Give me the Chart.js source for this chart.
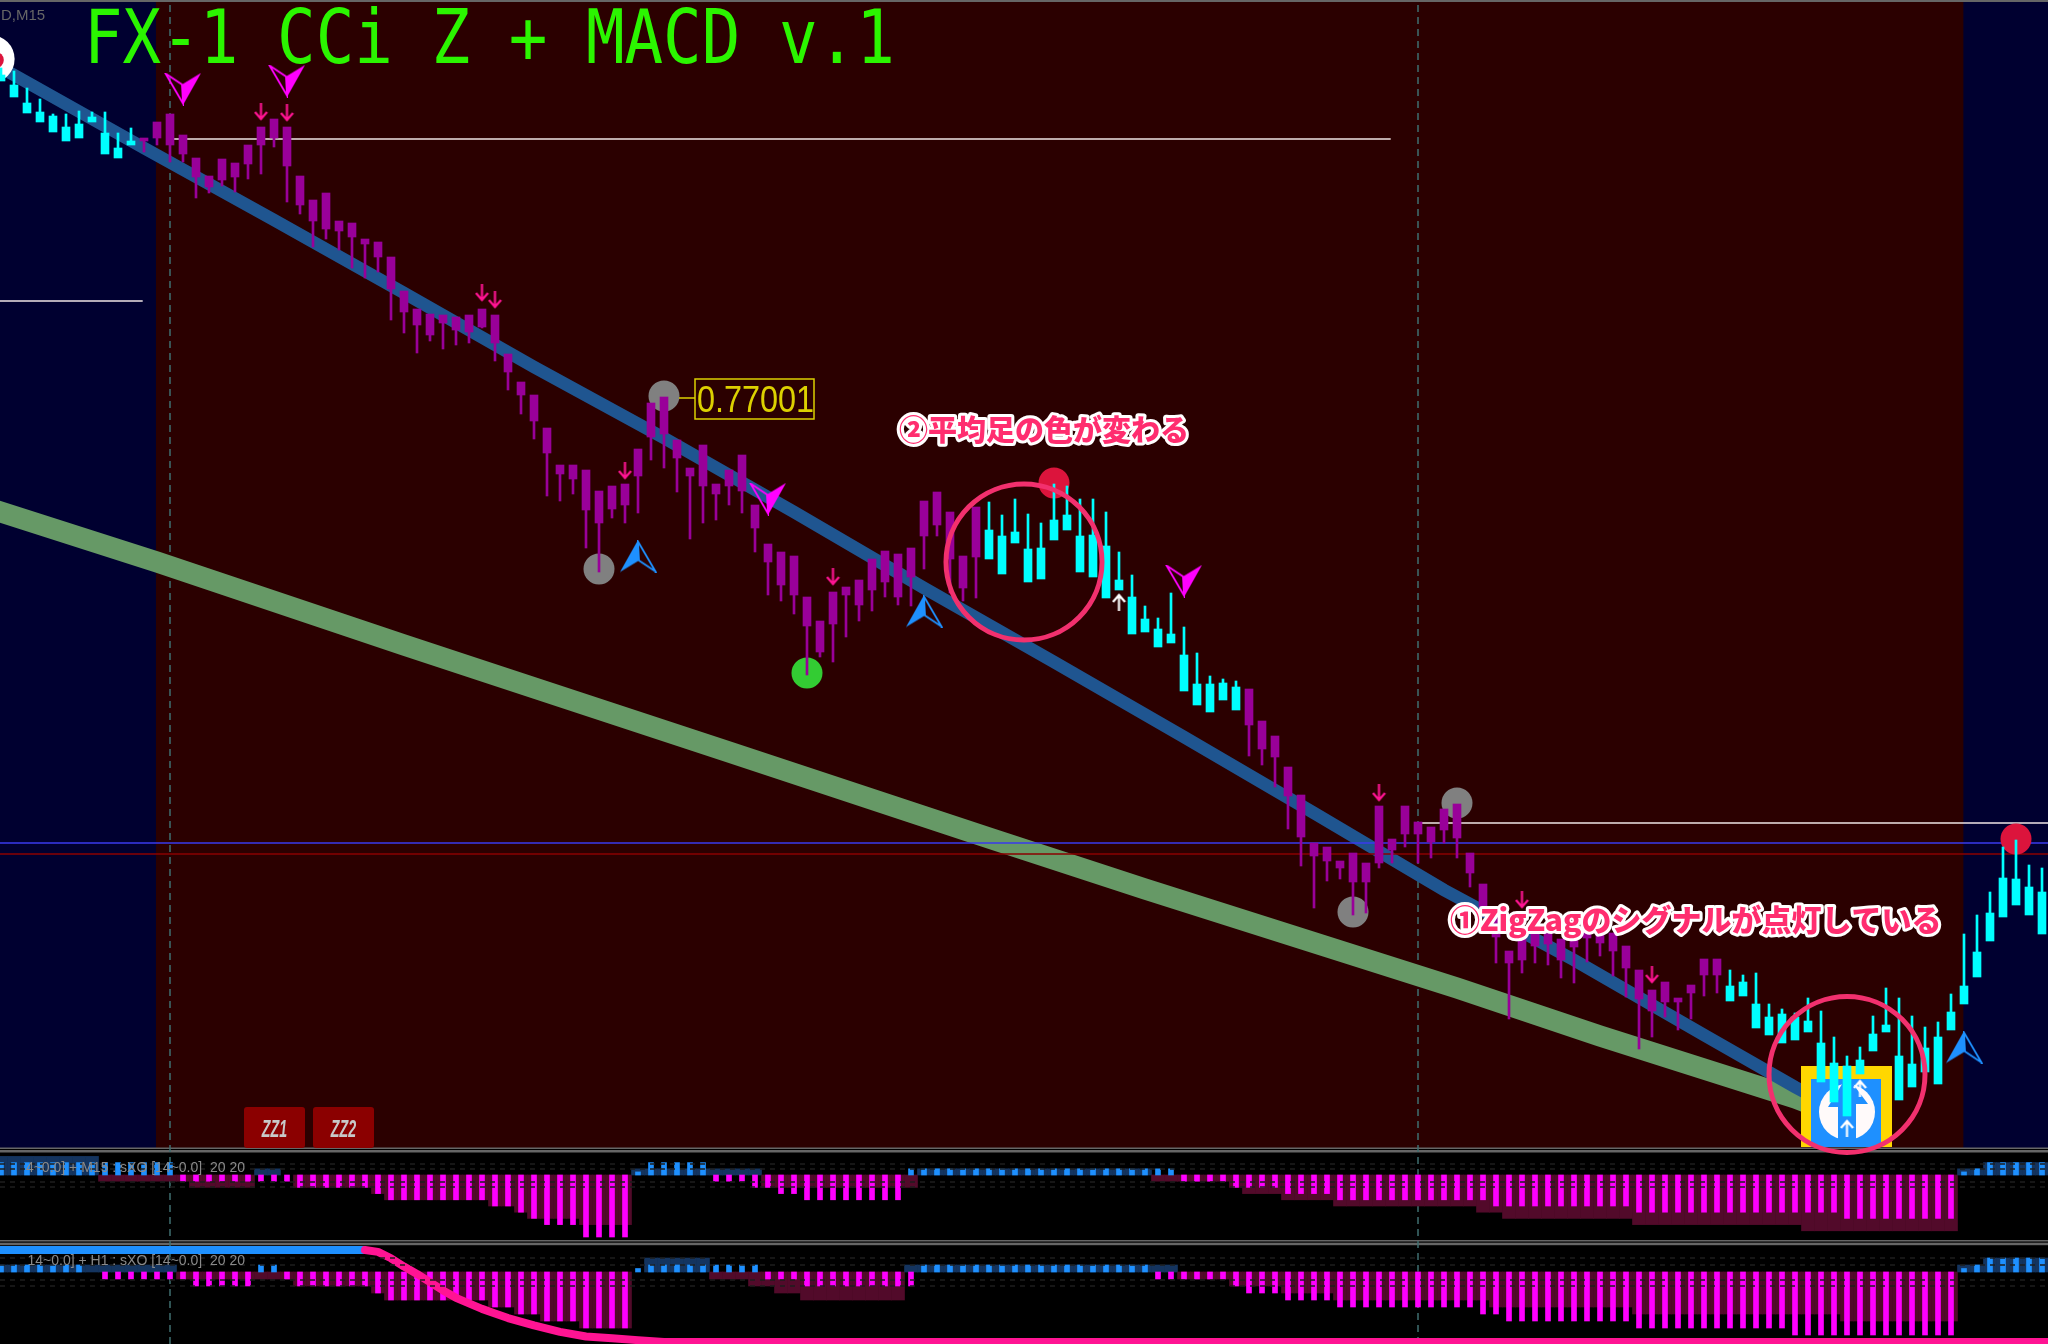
<!DOCTYPE html>
<html>
<head>
<meta charset="utf-8">
<style>
    html, body { margin: 0; padding: 0; background: #000; }
    canvas { display: block; }
</style>
<script src="https://cdn.jsdelivr.net/npm/chart.js@4"></script>
</head>
<body>
<canvas id="chart" width="2048" height="1344"></canvas>
<script>
// prices are in points above 0.76000, so 1001 is the 0.77001 tag
// every list starts at bar -1, the half hidden candle on the left edge
const firstBar = -1;

const bodyTop = [
    1326, 1316, 1298, 1289, 1285, 1274, 1277, 1284, 1268, 1253,
    1260, 1263, 1279, 1287, 1266, 1243, 1225, 1242, 1238, 1256,
    1274, 1282, 1274, 1225, 1201, 1208, 1180, 1178, 1162, 1159,
    1144, 1110, 1092, 1087, 1086, 1084, 1086, 1092, 1086, 1047,
    1019, 1006, 973, 936, 936, 931, 910, 915, 917, 952,
    998, 1004, 961, 933, 956, 917, 931, 946, 896, 857,
    849, 845, 804, 780, 809, 814, 821, 842, 850, 847,
    853, 900, 909, 889, 845, 894, 871, 865, 869, 852,
    853, 881, 886, 865, 866, 855, 821, 804, 782, 772,
    767, 746, 717, 717, 718, 714, 712, 680, 665, 634,
    606, 558, 554, 540, 548, 538, 595, 562, 595, 579,
    574, 592, 597, 548, 517, 486, 450, 462, 468, 468,
    462, 466, 479, 469, 468, 455, 431, 411, 419, 403,
    416, 442, 442, 415, 419, 397, 384, 387, 384, 380,
    358, 338, 335, 341, 367, 376, 345, 337, 353, 364,
    389, 415, 449, 488, 523, 522, 514, 509
];
const bodyBottom = [
    1320, 1304, 1288, 1279, 1269, 1260, 1263, 1279, 1247, 1243,
    1256, 1260, 1263, 1256, 1247, 1224, 1214, 1221, 1224, 1237,
    1256, 1263, 1235, 1196, 1180, 1172, 1170, 1164, 1157, 1144,
    1112, 1089, 1076, 1066, 1078, 1071, 1069, 1074, 1058, 1029,
    1006, 980, 948, 927, 922, 891, 878, 892, 896, 925,
    964, 967, 943, 925, 915, 907, 915, 910, 873, 839,
    816, 806, 775, 749, 777, 806, 796, 811, 819, 804,
    824, 865, 876, 842, 813, 844, 842, 827, 858, 819,
    822, 861, 871, 829, 824, 803, 811, 767, 769, 754,
    758, 710, 696, 689, 701, 691, 676, 652, 644, 605,
    564, 545, 540, 533, 519, 519, 538, 551, 567, 567,
    559, 571, 563, 528, 494, 464, 438, 441, 455, 457,
    441, 454, 463, 458, 450, 433, 402, 390, 399, 399,
    408, 426, 426, 400, 405, 373, 366, 358, 361, 369,
    319, 299, 285, 327, 350, 369, 301, 314, 329, 317,
    371, 397, 424, 460, 484, 496, 486, 467
];
// wick tip: above the body on a rising candle, below it on a falling one
const wickTip = [
    1333, 1330, 1313, 1302, 1287, 1287, 1290, 1289, 1289, 1268,
    1273, 1249, 1256, 1239, 1239, 1203, 1208, 1215, 1209, 1222,
    1227, 1254, 1199, 1187, 1154, 1162, 1151, 1133, 1123, 1129,
    1081, 1068, 1048, 1060, 1052, 1056, 1058, 1073, 1040, 1011,
    987, 962, 905, 900, 907, 853, 829, 883, 878, 888,
    941, 933, 909, 862, 878, 881, 896, 888, 849, 806,
    800, 787, 726, 744, 739, 764, 780, 790, 804, 796,
    795, 832, 865, 808, 800, 803, 899, 886, 902, 887,
    878, 917, 915, 902, 902, 889, 849, 826, 795, 783,
    808, 774, 748, 725, 722, 720, 645, 636, 614, 572,
    535, 493, 520, 522, 486, 488, 533, 538, 554, 538,
    543, 558, 543, 514, 485, 438, 382, 428, 438, 436,
    423, 418, 439, 445, 425, 404, 352, 364, 384, 371,
    382, 405, 408, 431, 426, 428, 397, 392, 388, 403,
    390, 364, 345, 354, 385, 413, 403, 385, 374, 379,
    407, 467, 486, 509, 554, 561, 536, 533
];

// the two moving averages, read at the bars listed
const slowMaBars = [-2, 11, 30, 37, 55, 75, 87, 111, 122, 137, 138];
const slowMaValues = [893, 839, 756, 726, 649, 563, 512, 413, 365, 303, 298];
const fastMaBars = [-2, 0, 10, 20, 30, 40, 50, 60, 70, 80, 90, 100, 110, 120, 130, 137, 138];
const fastMaValues = [1340, 1326, 1253, 1181, 1108, 1034, 963, 889, 813, 739, 664, 588, 511, 441, 366, 314, 307];

// horizontal levels
const supportLines = [
    { from: 12, to: 105.9, value: 1262 },
    { from: -2, to: 9.9, value: 1100 },
    { from: 108.3, to: 158, value: 578 }
];
const blueLevel = 558;
const redLevel = 547;
const cursorBars = [12, 108];

// signals: [bar, price]
const grayDots = [[50, 1005], [45, 832], [103, 489], [111, 598]];
const greenDots = [[61, 728]];
const redDots = [[80, 918], [154, 562]];
const sellArrows = [[13, 1312], [21, 1320], [58, 902], [90, 820]];
const buyArrows = [[48, 845], [70, 790], [150, 354]];
const smallDownArrows = [[19, 1289], [21, 1288], [36, 1108], [37, 1101], [47, 930], [63, 824], [105, 608], [116, 501], [126, 426]];
const smallUpArrows = [[85, 799], [142, 313], [141, 273]];

// sXO panels, counted in steps around zero, bars from -1 to 156
const m15Fast = [
    2, 2, 2, 2, 2, 2, 2, 2, 2, 2,
    2, 2, 2, 2, -1, -1, -1, -1, -1, -1,
    -1, -1, -1, -2, -2, -2, -2, -2, -2, -3,
    -4, -4, -4, -4, -4, -4, -4, -4, -5, -5,
    -6, -7, -8, -8, -8, -10, -10, -10, -10, 0.5,
    2, 2, 2, 2, 2, -1, -1, -1, -2, -2,
    -3, -3, -4, -4, -4, -4, -4, -4, -4, -4,
    1, 1, 1, 1, 1, 1, 1, 1, 1, 1,
    1, 1, 1, 1, 1, 1, 1, 1, 1, 1,
    1, -1, -1, -1, -1, -2, -2, -2, -2, -3,
    -3, -3, -3, -4, -4, -4, -4, -4, -4, -4,
    -4, -4, -4, -4, -4, -5, -5, -5, -5, -5,
    -5, -5, -5, -5, -5, -5, -6, -6, -6, -6,
    -6, -6, -6, -6, -6, -6, -6, -6, -6, -6,
    -6, -6, -7, -7, -7, -7, -7, -7, -7, -7,
    -7, 0.5, 1, 2, 2, 2, 2, 2
];
const m15Slow = [
    3, 3, 3, 3, 3, 3, 3, 3, -1, -1,
    -1, -1, -1, -1, -1, -2, -2, -2, -2, -2,
    1, 1, 0, -2, -2, -2, -2, -2, -2, -3,
    -4, -4, -4, -4, -4, -4, -4, -4, -5, -5,
    -6, -7, -7, -7, -7, -8, -8, -8, -8, 1,
    1, 1, 1, 1, 1, 1, 1, 1, 1, -2,
    -2, -2, -2, -2, -2, -2, -2, -2, -2, -2,
    -2, 1, 1, 1, 1, 1, 1, 1, 1, 1,
    1, 1, 1, 1, 1, 1, 1, 1, 1, -1,
    -1, -1, -1, -1, -1, -2, -3, -3, -3, -4,
    -4, -4, -4, -5, -5, -5, -5, -5, -5, -5,
    -5, -5, -5, -5, -6, -6, -7, -7, -7, -7,
    -7, -7, -7, -7, -7, -7, -8, -8, -8, -8,
    -8, -8, -8, -8, -8, -8, -8, -8, -8, -9,
    -9, -9, -9, -9, -9, -9, -9, -9, -9, -9,
    -9, 1, 1, 2, 2, 2, 2, 2
];
const h1Fast = [
    1, 1, 1, 1, 1, 1, 1, 0, -1, -1,
    -1, -1, -1, -1, -1, -2, -2, -2, -2, -2,
    1, 1, -1, -2, -2, -2, -2, -2, -2, -3,
    -4, -4, -4, -4, -4, -4, -4, -4, -5, -5,
    -6, -6, -7, -7, -7, -8, -8, -8, -8, 0.5,
    1, 1, 1, 1, 1, 1, 1, 1, 1, -1,
    -1, -1, -2, -2, -2, -2, -2, -2, -2, -2,
    -2, 1, 1, 1, 1, 1, 1, 1, 1, 1,
    1, 1, 1, 1, 1, 1, 1, 1, 1, -1,
    -1, -1, -1, -1, -1, -2, -3, -3, -3, -4,
    -4, -4, -4, -5, -5, -5, -5, -5, -5, -5,
    -5, -5, -5, -5, -6, -6, -7, -7, -7, -7,
    -7, -7, -7, -7, -7, -7, -8, -8, -8, -8,
    -8, -8, -8, -8, -8, -8, -8, -8, -9, -9,
    -9, -9, -9, -9, -9, -9, -9, -9, -9, -9,
    -9, 0.5, 1, 2, 2, 2, 2, 2
];
const h1Slow = [
    1, 1, 1, 1, 1, 1, 1, 1, 1, 1,
    1, 1, 1, 1, -1, -1, -1, -1, -1, -1,
    -1, -1, -1, -2, -2, -2, -2, -2, -2, -3,
    -4, -4, -4, -4, -4, -4, -4, -4, -5, -5,
    -6, -6, -7, -7, -7, -8, -8, -8, -8, 0,
    2, 2, 2, 2, 2, -1, -1, -1, -2, -2,
    -3, -3, -4, -4, -4, -4, -4, -4, -4, -4,
    1, 1, 1, 1, 1, 1, 1, 1, 1, 1,
    1, 1, 1, 1, 1, 1, 1, 1, 1, 1,
    1, -1, -1, -1, -1, -2, -2, -2, -2, -3,
    -3, -3, -3, -4, -4, -4, -4, -4, -4, -4,
    -4, -4, -4, -4, -4, -5, -5, -5, -5, -5,
    -5, -5, -5, -5, -5, -5, -6, -6, -6, -6,
    -6, -6, -6, -6, -6, -6, -6, -6, -6, -6,
    -6, -6, -7, -7, -7, -7, -7, -7, -7, -7,
    -7, 1, 1, 2, 2, 2, 2, 2
];

// trend line of the lower panel, 100 is the blue side, 0 the pink side
const trendUpBars = [-2, 27];
const trendUpValues = [100, 100];
const trendDownBars = [27, 28, 29, 30, 31, 32, 33, 34, 35, 36, 37, 38, 40, 42, 44, 46, 48, 50, 158];
const trendDownValues = [100, 98, 91, 82, 74, 65, 56, 48, 42, 36, 31, 26, 18, 11, 6, 4, 2, 0, 0];

const titleText = 'FX-1 CCi Z + MACD v.1';
const symbolText = 'D,M15';
const priceTag = '0.77001';
const noteSignal = '①ZigZagのシグナルが点灯している';
const noteColor = '②平均足の色が変わる';
const buttonLabels = ['ZZ1', 'ZZ2'];
const m15Legend = '4~0.0] + M15 : sXO [14~0.0]  20 20';
const h1Legend = '14~0.0] + H1 : sXO [14~0.0]  20 20';

const CYAN = '#00ffff';
const PURPLE = '#990099';
const MAGENTA = '#ff00ff';
const MAROON = '#520a2a';
const DODGER = '#1e90ff';
const NAVY = '#14345f';
const PINK = '#f2306e';

const barSpacing = 13;
const barZero = 14;
const priceTop = 1401;
const m15Zero = 1175;
const m15Step = 6.2;
const h1Zero = 1272;
const h1Step = 7;

const pts = pairs => pairs.map(p => ({ x: p[0], y: p[1] }));
const zip = (xs, ys) => xs.map((x, i) => ({ x: x, y: ys[i] }));
const barOf = i => i + firstBar;

function arrowIcon(color, flip) {
    const c = document.createElement('canvas');
    c.width = 38;
    c.height = 33;
    const g = c.getContext('2d');
    if (flip) {
        g.translate(38, 33);
        g.rotate(Math.PI);
    }
    g.fillStyle = color;
    g.strokeStyle = color;
    g.lineWidth = 1.8;
    g.lineJoin = 'miter';
    g.beginPath();
    g.moveTo(18, 12);
    g.lineTo(37, 0.5);
    g.lineTo(19, 32.5);
    g.closePath();
    g.fill();
    g.beginPath();
    g.moveTo(18, 12);
    g.lineTo(1.5, 1);
    g.lineTo(19, 31);
    g.closePath();
    g.stroke();
    return c;
}

function smallArrowIcon(color, flip) {
    const c = document.createElement('canvas');
    c.width = 15;
    c.height = 18;
    const g = c.getContext('2d');
    if (flip) {
        g.translate(15, 18);
        g.rotate(Math.PI);
    }
    g.strokeStyle = color;
    g.lineWidth = 2.2;
    g.beginPath();
    g.moveTo(7.5, 0);
    g.lineTo(7.5, 16);
    g.moveTo(1.5, 9);
    g.lineTo(7.5, 16);
    g.lineTo(13.5, 9);
    g.stroke();
    return c;
}

function scatter(data, order, style, radius, color) {
    return {
        type: 'scatter',
        data: data,
        order: order,
        yAxisID: 'y',
        pointStyle: style,
        pointRadius: radius,
        pointBackgroundColor: color,
        pointBorderWidth: 0,
        showLine: false
    };
}

function line(data, order, color, width, extra) {
    return Object.assign({
        type: 'line',
        data: data,
        order: order,
        yAxisID: 'y',
        borderColor: color,
        borderWidth: width,
        pointRadius: 0,
        tension: 0,
        fill: false
    }, extra || {});
}

function panelBars(values, axis, thickness, order, upColor, downColor) {
    const data = values
        .map((v, i) => ({ x: barOf(i), y: [0, v] }))
        .filter(d => d.y[1] !== 0);
    return {
        type: 'bar',
        data: data,
        order: order,
        yAxisID: axis,
        grouped: false,
        barThickness: thickness,
        backgroundColor: data.map(d => d.y[1] > 0 ? upColor : downColor)
    };
}

const candleColors = bodyTop.map((top, i) => wickTip[i] > top ? CYAN : PURPLE);

const datasets = [
    // cursors run through the panels too
    ...cursorBars.map(bar => line([{ x: bar, y: 57 }, { x: bar, y: priceTop }], 40, '#3f6f70', 1.5, { borderDash: [7, 5] })),

    panelBars(m15Slow, 'm15', 13, 38, NAVY, MAROON),
    panelBars(m15Fast, 'm15', 5, 37, DODGER, MAGENTA),
    panelBars(h1Slow, 'h1', 13, 38, NAVY, MAROON),
    panelBars(h1Fast, 'h1', 5, 37, DODGER, MAGENTA),
    line(zip(trendUpBars, trendUpValues), 36, DODGER, 8, { yAxisID: 'trend' }),
    line(zip(trendDownBars, trendDownValues), 35, '#ff1493', 8, { yAxisID: 'trend', borderCapStyle: 'round', borderJoinStyle: 'round' }),

    line(zip(slowMaBars, slowMaValues), 30, '#669966', 21),
    line(zip(fastMaBars, fastMaValues), 29, '#1f5590', 12.5),
    ...supportLines.map(s => line([{ x: s.from, y: s.value }, { x: s.to, y: s.value }], 28, '#f0e6e6', 1.5)),
    line([{ x: -2, y: blueLevel }, { x: 158, y: blueLevel }], 27, '#3a3aee', 1.5),
    line([{ x: -2, y: redLevel }, { x: 158, y: redLevel }], 27, '#8b0000', 1.5),

    scatter(pts(grayDots), 25, 'circle', 15.5, '#808080'),
    scatter(pts(greenDots), 25, 'circle', 15.5, '#33cc33'),
    scatter(pts(redDots), 25, 'circle', 15.5, '#dc143c'),
    scatter([{ x: -1.8, y: 1342 }], 25, 'circle', 24, '#ffffff'),
    scatter([{ x: -1.4, y: 1341 }], 24, 'circle', 8, '#dc143c'),

    {
        type: 'bar',
        id: 'wicks',
        data: bodyTop.map((top, i) => ({ x: barOf(i), y: wickTip[i] > top ? [top, wickTip[i]] : [wickTip[i], bodyBottom[i]] })),
        order: 20,
        yAxisID: 'y',
        grouped: false,
        barThickness: 2,
        backgroundColor: candleColors
    },
    {
        type: 'bar',
        data: bodyTop.map((top, i) => ({ x: barOf(i), y: [bodyBottom[i], top] })),
        order: 19,
        yAxisID: 'y',
        grouped: false,
        barThickness: 8,
        backgroundColor: candleColors
    },

    scatter(pts(sellArrows), 10, arrowIcon(MAGENTA, false), 16, MAGENTA),
    scatter(pts(buyArrows), 10, arrowIcon(DODGER, true), 16, DODGER),
    scatter(pts(smallDownArrows), 9, smallArrowIcon('#ff1493', false), 8, '#ff1493'),
    scatter(pts(smallUpArrows), 9, smallArrowIcon('#ffffff', true), 8, '#ffffff')
];

function drawZZButton(ctx, label, x) {
    ctx.fillStyle = '#8b0000';
    ctx.beginPath();
    ctx.roundRect(x, 1107, 61, 41, 3);
    ctx.fill();
    ctx.save();
    ctx.translate(x + 30.5, 1137);
    ctx.scale(0.62, 1);
    ctx.font = 'italic bold 23px "Liberation Sans"';
    ctx.textAlign = 'center';
    ctx.fillStyle = '#c8c8c8';
    ctx.fillText(label, 0, 0);
    ctx.restore();
}

function drawSignalBox(ctx) {
    ctx.fillStyle = '#ffd700';
    ctx.fillRect(1801, 1066, 91, 81);
    ctx.fillStyle = DODGER;
    ctx.fillRect(1811, 1079, 70, 68);
    ctx.fillStyle = '#fffafa';
    ctx.beginPath();
    ctx.arc(1847, 1112, 28, 0, Math.PI * 2);
    ctx.fill();
    ctx.fillStyle = DODGER;
    ctx.beginPath();
    ctx.moveTo(1847, 1076);
    ctx.lineTo(1868, 1104);
    ctx.lineTo(1856, 1104);
    ctx.lineTo(1856, 1142);
    ctx.lineTo(1838, 1142);
    ctx.lineTo(1838, 1107);
    ctx.lineTo(1828, 1107);
    ctx.closePath();
    ctx.fill();
}

function drawNote(ctx, text, x, y, size) {
    ctx.font = '900 ' + size + 'px "Noto Sans CJK JP"';
    ctx.textAlign = 'left';
    ctx.textBaseline = 'middle';
    ctx.lineJoin = 'round';
    ctx.strokeStyle = '#ffffff';
    ctx.lineWidth = 6;
    ctx.strokeText(text, x, y);
    ctx.fillStyle = '#ff2d6f';
    ctx.fillText(text, x, y);
    ctx.textBaseline = 'alphabetic';
}

const mt4Backdrop = {
    id: 'mt4Backdrop',
    beforeDatasetsDraw(chart) {
        const ctx = chart.ctx;
        const x = chart.scales.x;
        ctx.save();
        ctx.fillStyle = '#000000';
        ctx.fillRect(0, 0, 2048, 1344);
        // session zones
        ctx.fillStyle = '#000030';
        ctx.fillRect(0, 0, 2048, 1148);
        ctx.fillStyle = '#2b0000';
        const from = x.getPixelForValue(10.92);
        const to = x.getPixelForValue(149.95);
        ctx.fillRect(from, 0, to - from, 1148);
        ctx.fillStyle = '#666666';
        ctx.fillRect(0, 0, 2048, 2);
        [1147.5, 1150, 1240, 1242.7].forEach((y, i) => ctx.fillRect(0, y, 2048, i % 2 ? 2.5 : 1.5));
        ctx.restore();
    },
    beforeDatasetDraw(chart, args) {
        // box sits over the averages and under the candles
        if (chart.data.datasets[args.index].id === 'wicks') {
            drawSignalBox(chart.ctx);
        }
    },
    afterDatasetsDraw(chart) {
        const ctx = chart.ctx;
        ctx.save();

        // panel levels, dark dashes that cut through the bars
        ctx.strokeStyle = '#1e1e1e';
        ctx.lineWidth = 1.5;
        ctx.setLineDash([5, 5]);
        [1164, 1169, 1182, 1187, 1258, 1265, 1280, 1286].forEach(y => {
            ctx.beginPath();
            ctx.moveTo(0, y);
            ctx.lineTo(2048, y);
            ctx.stroke();
        });
        ctx.setLineDash([]);

        // title
        ctx.save();
        ctx.translate(84, 63);
        ctx.scale(0.855, 1);
        ctx.font = '75px "DejaVu Sans Mono"';
        ctx.fillStyle = '#2bf500';
        ctx.fillText(titleText, 0, 0);
        ctx.restore();

        ctx.font = '15px "Liberation Sans"';
        ctx.fillStyle = '#666666';
        ctx.textAlign = 'left';
        ctx.fillText(symbolText, 1, 20);

        ctx.font = '14px "Liberation Sans"';
        ctx.fillStyle = '#8a8a8a';
        ctx.textAlign = 'right';
        ctx.fillText(m15Legend, 245, 1172);
        ctx.fillText(h1Legend, 245, 1265);

        drawZZButton(ctx, buttonLabels[0], 244);
        drawZZButton(ctx, buttonLabels[1], 313);

        // price tag next to the gray dot
        ctx.strokeStyle = '#dcd000';
        ctx.lineWidth = 1.5;
        ctx.strokeRect(695, 379, 119, 40);
        ctx.beginPath();
        ctx.moveTo(679, 398);
        ctx.lineTo(695, 398);
        ctx.stroke();
        ctx.save();
        ctx.translate(697, 412);
        ctx.scale(0.9, 1);
        ctx.font = '36px "Liberation Sans"';
        ctx.textAlign = 'left';
        ctx.fillStyle = '#dcd000';
        ctx.fillText(priceTag, 0, 0);
        ctx.restore();

        // hand drawn notes
        ctx.strokeStyle = PINK;
        ctx.lineWidth = 5;
        [[1024, 562], [1847, 1074.5]].forEach(c => {
            ctx.beginPath();
            ctx.arc(c[0], c[1], 78, 0, Math.PI * 2);
            ctx.stroke();
        });
        drawNote(ctx, noteColor, 899, 430, 29);
        drawNote(ctx, noteSignal, 1450, 920, 30);
        ctx.restore();
    }
};

new Chart(document.getElementById('chart'), {
    type: 'bar',
    data: { datasets: datasets },
    plugins: [mt4Backdrop],
    options: {
        responsive: false,
        animation: false,
        events: [],
        layout: { padding: 0, autoPadding: false },
        plugins: {
            legend: { display: false },
            tooltip: { enabled: false }
        },
        scales: {
            x: { type: 'linear', display: false, offset: false, min: -barZero / barSpacing, max: (2048 - barZero) / barSpacing },
            y: { type: 'linear', display: false, min: priceTop - 1344, max: priceTop },
            m15: { type: 'linear', display: false, min: (m15Zero - 1344) / m15Step, max: m15Zero / m15Step },
            h1: { type: 'linear', display: false, min: (h1Zero - 1344) / h1Step, max: h1Zero / h1Step },
            trend: { type: 'linear', display: false, min: -2 / 0.92, max: 1342 / 0.92 }
        }
    }
});
</script>
</body>
</html>
